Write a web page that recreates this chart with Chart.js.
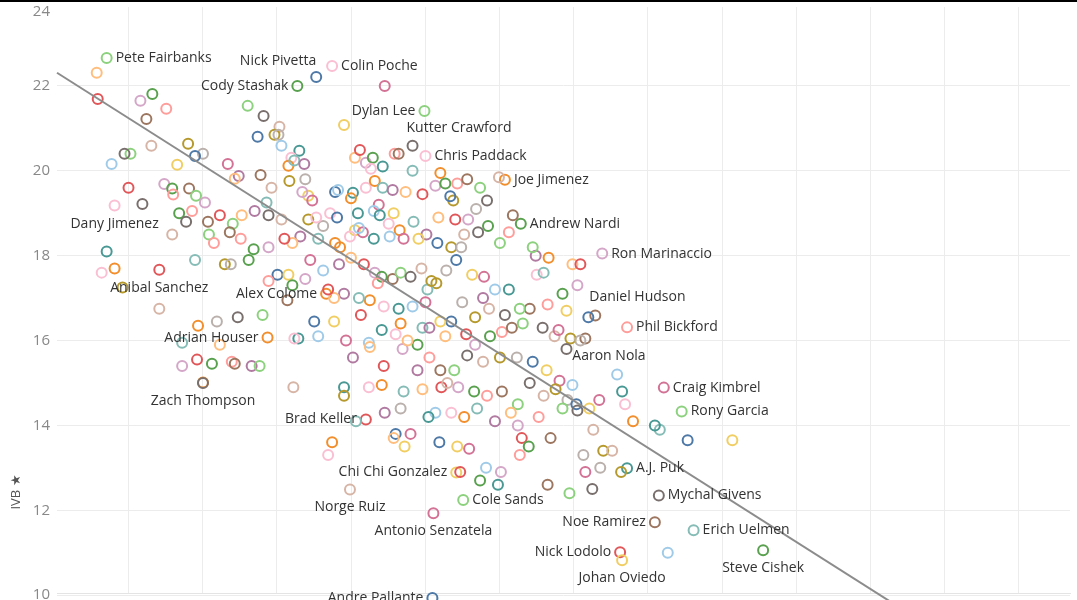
<!DOCTYPE html>
<html><head><meta charset="utf-8">
<script src="https://cdn.jsdelivr.net/npm/chart.js@4"></script>
<style>html,body{margin:0;padding:0;background:#fff;}#wrap{width:1077px;height:600px;position:relative;}</style>
</head><body><div id="wrap"><canvas id="c"></canvas></div>
<script>
// Unlabeled pitchers: x = horizontal position (relative units), y = IVB
const pitchX = [9.7,9.8,14.1,15.3,16.7,14.7,24.9,26.5,28.1,27.6,28.0,25.9,34.6,38.7,
28.3,30.1,29.3,29.0,29.6,30.6,35.7,36.2,36.8,37.5,39.7,40.1,13.1,12.5,15.2,18.9,20.4,19.6,17.8,22.9,11.2,38.5,37.3,44.3,41.5,
24.0,23.6,12.9,16.5,17.3,17.4,19.0,19.7,14.3,27.3,29.1,30.7,33.7,31.0,31.4,34.0,35.5,36.8,37.7,38.5,39.5,40.8,42.5,43.8,44.8,46.0,47.0,48.3,49.0,50.2,45.6,47.9,45.3,39.6,38.1,37.6,36.0,33.2,35.3,26.8,25.6,24.3,22.1,20.6,18.0,19.3,20.9,23.4,
27.0,28.3,31.0,32.5,33.9,35.7,36.5,36.1,38.2,39.1,40.2,41.6,42.9,44.1,45.8,47.1,49.1,51.2,51.6,50.3,48.1,46.7,45.4,46.4,44.0,42.1,40.6,39.2,37.6,35.2,33.7,32.0,30.2,29.4,28.6,27.0,25.5,24.2,23.1,21.0,18.7,17.3,22.6,23.2,27.9,29.0,31.2,32.5,10.7,10.2,11.5,19.6,
34.1,35.3,36.6,37.7,38.4,38.0,39.5,40.3,41.3,42.4,43.9,44.9,45.9,47.5,48.7,49.8,51.2,54.0,55.2,54.7,53.9,57.6,58.4,58.1,56.6,55.1,53.3,52.3,50.8,49.2,47.8,46.5,45.4,44.3,42.8,41.5,40.1,38.6,37.2,36.1,34.6,33.6,33.0,30.7,29.4,27.0,28.9,26.4,23.9,16.0,12.3,21.8,
31.6,33.6,34.8,37.1,38.4,39.8,40.3,42.5,43.2,44.8,46.9,47.8,49.3,50.5,51.5,52.6,54.6,55.8,57.4,58.4,59.2,57.0,56.2,32.0,30.0,29.6,19.9,18.3,35.5,37.2,38.6,40.5,42.0,43.2,44.3,45.7,47.0,48.6,50.3,52.0,53.6,55.0,56.3,57.6,
34.6,37.1,38.4,40.6,42.0,42.5,44.4,46.1,47.7,49.0,50.5,52.1,53.3,54.7,55.9,57.1,58.0,59.3,60.3,62.1,62.6,62.9,63.7,66.4,25.3,22.1,19.8,18.3,21.3,23.3,23.6,26.1,20.4,29.5,34.6,40.3,39.8,40.7,41.3,43.8,43.1,45.4,46.7,48.0,49.8,51.4,52.5,52.1,53.2,54.2,55.4,56.6,58.1,59.7,60.7,58.7,44.2,46.0,47.2,48.9,50.1,
33.0,33.4,35.8,38.7,39.6,46.3,50.4,48.3,52.3,55.1,57.3,59.6,61.6,62.5,60.4,69.2,73.7,58.9,67.2,65.9,
31.8,34.2,43.0,48.6,41.0,36.3,30.4,25.0,21.5,26.2,53.6,57.0,45.0,43.4];
const pitchY = [22.31,21.69,21.65,21.81,21.46,21.22,21.53,21.29,21.04,20.85,20.85,20.8,21.08,22.0,
20.59,20.47,20.31,20.12,20.24,20.16,20.31,20.49,20.19,20.31,20.4,20.4,20.4,20.4,20.59,20.64,20.4,20.35,20.14,20.16,20.16,20.1,20.05,19.95,20.0,
19.88,19.81,19.6,19.69,19.58,19.44,19.58,19.41,19.22,19.6,19.76,19.8,19.5,19.41,19.3,19.55,19.48,19.6,19.76,19.6,19.55,19.5,19.45,19.65,19.7,19.7,19.8,19.6,19.3,19.85,19.3,19.1,19.4,19.0,19.2,19.05,19.0,19.0,19.35,19.25,19.05,18.95,18.95,19.25,19.0,19.05,18.8,18.75,
18.95,18.85,18.85,18.7,18.9,18.6,18.55,18.65,18.95,18.75,18.6,18.8,18.5,18.9,18.85,18.85,18.7,18.55,18.95,18.3,18.55,18.5,18.2,18.2,18.3,18.4,18.4,18.45,18.4,18.45,18.3,18.4,18.45,18.3,18.4,18.2,18.15,18.4,18.55,18.5,18.8,18.5,17.8,17.8,17.55,17.55,17.9,17.65,18.1,17.6,17.7,17.9,
17.8,17.95,17.8,17.6,17.5,17.35,17.45,17.6,17.5,17.7,17.35,17.65,17.9,17.55,17.5,17.2,17.2,17.55,17.95,17.6,18.0,17.8,17.8,17.3,17.1,16.85,16.75,16.75,16.6,16.75,16.55,16.9,16.45,16.45,16.9,16.8,16.75,16.8,16.95,17.0,17.1,17.0,17.2,17.45,17.3,17.4,16.95,16.6,16.55,16.75,17.25,16.45,
16.45,16.45,16.0,15.95,16.25,16.15,16.4,16.3,16.3,16.1,16.15,15.9,16.1,16.2,16.3,16.4,16.3,16.1,16.05,16.0,16.55,16.7,16.25,16.1,16.05,16.05,16.35,15.95,15.6,15.85,15.4,15.8,15.9,15.6,15.3,15.3,15.65,15.5,15.6,15.6,15.5,15.3,15.05,14.95,
14.9,14.9,14.95,14.8,15.3,14.85,14.9,14.9,14.8,14.7,14.8,14.5,15.0,14.7,14.85,14.6,14.5,14.4,14.6,15.2,14.8,14.5,14.1,13.9,15.4,15.9,15.55,15.4,15.45,15.5,15.45,15.4,15.0,14.9,14.7,14.4,13.8,13.5,13.8,14.3,14.2,14.3,14.2,14.4,14.1,14.3,13.7,14.0,13.5,14.2,13.7,14.4,14.35,13.9,13.4,13.3,13.6,13.5,13.45,13.0,12.6,
13.3,13.6,14.1,14.3,13.7,12.9,12.9,12.7,13.3,12.6,12.4,12.5,13.4,12.9,13.0,13.65,13.65,12.9,11.0,14.0,
18.9,18.2,17.2,17.0,16.0,16.6,19.5,17.9,18.3,19.9,18.2,15.8,15.0,17.4];

// Labeled pitchers
const labelNames = ["Pete Fairbanks","Nick Pivetta","Colin Poche","Cody Stashak","Dylan Lee","Kutter Crawford","Chris Paddack","Joe Jimenez","Dany Jimenez","Andrew Nardi","Ron Marinaccio","Anibal Sanchez","Alex Colome","Daniel Hudson","Phil Bickford","Adrian Houser","Aaron Nola","Zach Thompson","Craig Kimbrel","Rony Garcia","Brad Keller","A.J. Puk","Chi Chi Gonzalez","Mychal Givens","Cole Sands","Norge Ruiz","Antonio Senzatela","Noe Ramirez","Erich Uelmen","Nick Lodolo","Steve Cishek","Johan Oviedo","Andre Pallante"];
const labelX = [10.7,31.8,33.4,29.9,42.7,41.5,42.8,50.8,11.5,52.4,60.6,16.0,32.8,59.9,63.1,26.9,58.9,20.4,66.8,68.6,36.8,63.1,45.9,66.3,46.6,35.2,43.6,65.9,69.8,62.4,76.8,62.6,43.5];
const labelY = [22.66,22.21,22.47,22.0,21.41,20.59,20.35,19.79,19.18,18.75,18.05,17.67,17.1,16.59,16.31,16.07,16.05,15.01,14.89,14.33,14.14,12.99,12.89,12.35,12.24,12.49,11.93,11.72,11.53,11.01,11.06,10.82,9.93];
const labelSide = ["right","aboveleft","right","left","left","aboveright","right","right","below","right","right","below","left","aboveright","right","left","belowright","below","right","right","left","right","left","right","right","below","below","left","right","left","below","below","left"];
const labelColors = ["#8cd17d","#4e79a7","#fabfd2","#59a14f","#8cd17d","#79706e","#fabfd2","#f28e2b","#fabfd2","#59a14f","#d4a6c8","#e15759","#f28e2b","#9d7660","#ff9d9a","#f28e2b","#9d7660","#f28e2b","#d37295","#8cd17d","#e15759","#499894","#f1ce63","#79706e","#8cd17d","#d7b5a6","#d37295","#9d7660","#86bcb6","#e15759","#59a14f","#f1ce63","#4e79a7"];

const yTicks = [10,12,14,16,18,20,22,24];
const trendX = [5.7, 107.7];
const trendY = [22.31, 7.16];

const palette = ['#4e79a7','#a0cbe8','#f28e2b','#ffbe7d','#59a14f','#8cd17d','#b6992d','#f1ce63','#499894','#86bcb6','#e15759','#ff9d9a','#79706e','#bab0ac','#d37295','#fabfd2','#b07aa1','#d4a6c8','#9d7660','#d7b5a6'];
const pts = pitchX.map((x,i)=>({x, y: pitchY[i]}));
const ptColors = pitchX.map((x,i)=>palette[(i*7+3)%20]);
const lpts = labelX.map((x,i)=>({x, y: labelY[i]}));

const FONT = '"Open Sans", "Noto Sans", sans-serif';
const overlay = {
  id:'overlay',
  beforeDatasetsDraw(chart){
    const ctx = chart.ctx, ys = chart.scales.y, a = chart.chartArea;
    ctx.save(); ctx.strokeStyle='#ececec'; ctx.lineWidth=1;
    [10,24].forEach(t=>{ const py=Math.round(ys.getPixelForValue(t))+0.5; ctx.beginPath(); ctx.moveTo(a.left,py); ctx.lineTo(a.right,py); ctx.stroke(); });
    ctx.restore();
  },
  afterDatasetsDraw(chart){
    const ctx = chart.ctx, xs = chart.scales.x, ys = chart.scales.y;
    ctx.save();
    ctx.font = '14px ' + FONT; ctx.fillStyle = '#333'; ctx.textBaseline='middle';
    labelNames.forEach((n,i)=>{
      const px = xs.getPixelForValue(labelX[i]), py = ys.getPixelForValue(labelY[i]);
      const s = labelSide[i];
      let tx=px, ty=py;
      if(s==='right'){ctx.textAlign='left';tx=px+9;}
      else if(s==='left'){ctx.textAlign='right';tx=px-9;}
      else if(s==='below'){ctx.textAlign='center';ty=py+18;}
      else if(s==='above'){ctx.textAlign='center';ty=py-18;}
      else if(s==='aboveleft'){ctx.textAlign='right';ty=py-16;}
      else if(s==='aboveright'){ctx.textAlign='left';tx=px-6;ty=py-18;}
      else if(s==='belowright'){ctx.textAlign='left';tx=px-13;ty=py+18;}
      ctx.fillText(n,tx,ty);
    });
    ctx.restore();
  },
  afterDraw(chart){
    const ctx = chart.ctx, ys = chart.scales.y;
    ctx.save();
    ctx.fillStyle='#000'; ctx.fillRect(0,0,chart.width,2);
    ctx.font='15px '+FONT; ctx.fillStyle='#888'; ctx.textAlign='right'; ctx.textBaseline='middle';
    yTicks.forEach(t=>{ let py = ys.getPixelForValue(t); if(py<12) py=12; ctx.fillText(String(t),50,py); });
    ctx.translate(16,492); ctx.rotate(-Math.PI/2);
    ctx.font='13px '+FONT; ctx.fillStyle='#555'; ctx.textAlign='center';
    ctx.fillText('IVB \u2605',0,0);
    ctx.restore();
  }
};

new Chart(document.getElementById('c'),{
  type:'scatter',
  data:{datasets:[
    {data:pts, pointStyle:'circle', pointRadius:5, pointBorderWidth:2, borderColor:ptColors, backgroundColor:'rgba(0,0,0,0)', pointHoverRadius:5, order:2, clip:false},
    {data:lpts, pointStyle:'circle', pointRadius:5, pointBorderWidth:2, borderColor:labelColors, backgroundColor:'rgba(0,0,0,0)', order:2, clip:false},
    {type:'line', data:trendX.map((x,i)=>({x,y:trendY[i]})), borderColor:'#8c8c8c', borderWidth:2, pointRadius:0, fill:false, order:1, clip:false}
  ]},
  options:{
    responsive:true, maintainAspectRatio:false, animation:false,
    layout:{padding:{left:57,top:0,right:0,bottom:0}},
    plugins:{legend:{display:false},tooltip:{enabled:false}},
    scales:{
      x:{type:'linear',min:5.7,max:107.7,
         afterBuildTicks(s){ const t=[]; for(let v=12.9; v<107.7; v+=7.47) t.push({value:v}); s.ticks=t; },
         ticks:{display:false}, grid:{color:'#ececec',drawTicks:false}, border:{display:true,color:'#e4e4e4'}},
      y:{type:'linear',min:10.05,max:23.86,
         afterBuildTicks(s){ s.ticks = yTicks.filter(v=>v>10.05&&v<23.86).map(v=>({value:v})); },
         ticks:{display:false}, grid:{color:'#ececec',drawTicks:false}, border:{display:false}}
    }
  },
  plugins:[overlay]
});
</script></body></html>
